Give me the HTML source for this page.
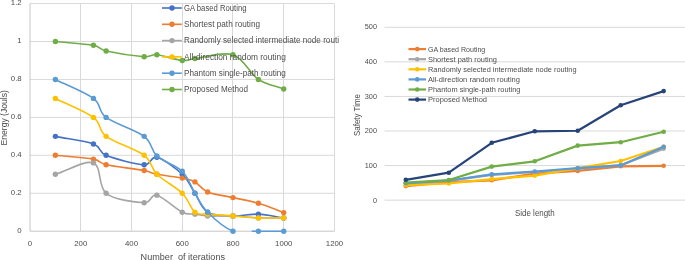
<!DOCTYPE html>
<html><head><meta charset="utf-8"><title>Charts</title>
<style>html,body{margin:0;padding:0;background:#fff}svg{display:block;filter:blur(0.35px)}text{font-family:"Liberation Sans",sans-serif;fill:#4d4d4d}</style></head><body>
<svg width="685" height="260" viewBox="0 0 685 260">
<rect width="685" height="260" fill="#fff"/>
<g stroke="#d9d9d9" stroke-width="1" fill="none">
<line x1="30.0" y1="193.26" x2="334.5" y2="193.26"/>
<line x1="30.0" y1="155.32" x2="334.5" y2="155.32"/>
<line x1="30.0" y1="117.38" x2="334.5" y2="117.38"/>
<line x1="30.0" y1="79.44" x2="334.5" y2="79.44"/>
<line x1="30.0" y1="41.50" x2="334.5" y2="41.50"/>
<line x1="30.0" y1="3.56" x2="334.5" y2="3.56"/>
<line x1="80.50" y1="3.6" x2="80.50" y2="231.2"/>
<line x1="131.50" y1="3.6" x2="131.50" y2="231.2"/>
<line x1="182.50" y1="3.6" x2="182.50" y2="231.2"/>
<line x1="232.50" y1="3.6" x2="232.50" y2="231.2"/>
<line x1="283.50" y1="3.6" x2="283.50" y2="231.2"/>
<line x1="334.50" y1="3.6" x2="334.50" y2="231.2"/>
</g>
<g stroke="#c6c6c6" stroke-width="1" fill="none"><line x1="30.0" y1="3.6" x2="30.0" y2="231.2"/><line x1="30.0" y1="231.2" x2="334.5" y2="231.2"/></g>
<g font-size="7.8" text-anchor="end">
<text x="21.7" y="233.10">0</text>
<text x="21.7" y="195.16">0.2</text>
<text x="21.7" y="157.22">0.4</text>
<text x="21.7" y="119.28">0.6</text>
<text x="21.7" y="81.34">0.8</text>
<text x="21.7" y="43.40">1</text>
<text x="21.7" y="5.46">1.2</text>
</g>
<g font-size="7.8" text-anchor="middle">
<text x="30.00" y="245.6">0</text>
<text x="80.75" y="245.6">200</text>
<text x="131.50" y="245.6">400</text>
<text x="182.25" y="245.6">600</text>
<text x="233.00" y="245.6">800</text>
<text x="283.75" y="245.6">1000</text>
<text x="334.50" y="245.6">1200</text>
</g>
<text font-size="9.2" text-anchor="middle" x="182.8" y="260.4" textLength="84.4" lengthAdjust="spacingAndGlyphs">Number&#160; of iterations</text>
<text font-size="9.2" text-anchor="middle" transform="translate(7.4,117.8) rotate(-90)" textLength="55.5" lengthAdjust="spacingAndGlyphs">Energy (Jouls)</text>
<clipPath id="cl"><rect x="30.0" y="3" width="305" height="228.7"/></clipPath>
<path d="M55.38,136.35 C68.06,138.88 84.98,140.78 93.44,143.94 C101.42,146.92 98.24,152.08 106.12,155.32 C114.58,158.80 135.73,164.49 144.19,164.81 C151.57,165.08 150.53,155.64 156.88,157.22 C163.22,158.80 175.91,168.28 182.25,174.29 C188.59,180.30 190.71,186.94 194.94,193.26 C199.17,199.58 201.28,208.44 207.62,212.23 C213.97,216.02 224.54,215.71 233.00,216.02 C241.46,216.34 249.92,213.81 258.38,214.13 C266.83,214.44 275.29,216.66 283.75,217.92" fill="none" stroke="#4472C4" stroke-width="1.6" stroke-linecap="round" stroke-linejoin="round" clip-path="url(#cl)"/>
<g fill="#4472C4"><circle cx="55.38" cy="136.35" r="2.7"/><circle cx="93.44" cy="143.94" r="2.7"/><circle cx="106.12" cy="155.32" r="2.7"/><circle cx="144.19" cy="164.81" r="2.7"/><circle cx="156.88" cy="157.22" r="2.7"/><circle cx="182.25" cy="174.29" r="2.7"/><circle cx="194.94" cy="193.26" r="2.7"/><circle cx="207.62" cy="212.23" r="2.7"/><circle cx="233.00" cy="216.02" r="2.7"/><circle cx="258.38" cy="214.13" r="2.7"/><circle cx="283.75" cy="217.92" r="2.7"/></g>
<path d="M55.38,155.32 C68.06,156.58 84.98,157.53 93.44,159.11 C100.27,160.39 99.34,163.28 106.12,164.81 C114.58,166.70 135.73,168.92 144.19,170.50 C150.70,171.71 150.53,173.03 156.88,174.29 C163.22,175.55 175.91,176.82 182.25,178.08 C188.59,179.35 190.71,179.57 194.94,181.88 C199.17,184.19 201.28,189.31 207.62,191.93 C213.97,194.56 224.54,195.73 233.00,197.62 C241.46,199.52 249.92,200.82 258.38,203.31 C266.83,205.81 275.29,209.51 283.75,212.61" fill="none" stroke="#ED7D31" stroke-width="1.6" stroke-linecap="round" stroke-linejoin="round" clip-path="url(#cl)"/>
<g fill="#ED7D31"><circle cx="55.38" cy="155.32" r="2.7"/><circle cx="93.44" cy="159.11" r="2.7"/><circle cx="106.12" cy="164.81" r="2.7"/><circle cx="144.19" cy="170.50" r="2.7"/><circle cx="156.88" cy="174.29" r="2.7"/><circle cx="182.25" cy="178.08" r="2.7"/><circle cx="194.94" cy="181.88" r="2.7"/><circle cx="207.62" cy="191.93" r="2.7"/><circle cx="233.00" cy="197.62" r="2.7"/><circle cx="258.38" cy="203.31" r="2.7"/><circle cx="283.75" cy="212.61" r="2.7"/></g>
<path d="M55.38,174.29 C68.06,170.50 84.98,159.75 93.44,162.91 C101.90,166.07 97.67,186.62 106.12,193.26 C114.58,199.90 135.73,202.43 144.19,202.75 C151.57,203.02 150.53,193.58 156.88,195.16 C163.22,196.74 175.91,209.07 182.25,212.23 C187.99,215.09 190.71,213.49 194.94,214.13 C199.17,214.76 201.28,215.71 207.62,216.02 C213.97,216.34 224.54,215.71 233.00,216.02 C241.46,216.34 249.92,217.60 258.38,217.92 C266.83,218.24 275.29,217.92 283.75,217.92" fill="none" stroke="#A5A5A5" stroke-width="1.6" stroke-linecap="round" stroke-linejoin="round" clip-path="url(#cl)"/>
<g fill="#A5A5A5"><circle cx="55.38" cy="174.29" r="2.7"/><circle cx="93.44" cy="162.91" r="2.7"/><circle cx="106.12" cy="193.26" r="2.7"/><circle cx="144.19" cy="202.75" r="2.7"/><circle cx="156.88" cy="195.16" r="2.7"/><circle cx="182.25" cy="212.23" r="2.7"/><circle cx="194.94" cy="214.13" r="2.7"/><circle cx="207.62" cy="216.02" r="2.7"/><circle cx="233.00" cy="216.02" r="2.7"/><circle cx="258.38" cy="217.92" r="2.7"/><circle cx="283.75" cy="217.92" r="2.7"/></g>
<path d="M55.38,98.41 C68.06,104.73 84.98,111.06 93.44,117.38 C101.90,123.70 97.67,130.03 106.12,136.35 C114.58,142.67 135.73,149.00 144.19,155.32 C152.65,161.64 150.53,167.97 156.88,174.29 C163.22,180.61 175.91,186.94 182.25,193.26 C188.59,199.58 190.71,208.75 194.94,212.23 C199.17,215.71 201.28,213.49 207.62,214.13 C213.97,214.76 224.54,215.39 233.00,216.02 C241.46,216.66 249.92,217.60 258.38,217.92 C266.83,218.24 275.29,217.92 283.75,217.92" fill="none" stroke="#FFC000" stroke-width="1.6" stroke-linecap="round" stroke-linejoin="round" clip-path="url(#cl)"/>
<g fill="#FFC000"><circle cx="55.38" cy="98.41" r="2.7"/><circle cx="93.44" cy="117.38" r="2.7"/><circle cx="106.12" cy="136.35" r="2.7"/><circle cx="144.19" cy="155.32" r="2.7"/><circle cx="156.88" cy="174.29" r="2.7"/><circle cx="182.25" cy="193.26" r="2.7"/><circle cx="194.94" cy="212.23" r="2.7"/><circle cx="207.62" cy="214.13" r="2.7"/><circle cx="233.00" cy="216.02" r="2.7"/><circle cx="258.38" cy="217.92" r="2.7"/><circle cx="283.75" cy="217.92" r="2.7"/></g>
<path d="M55.38,79.44 C68.06,85.76 84.98,92.09 93.44,98.41 C101.90,104.73 97.67,111.06 106.12,117.38 C114.58,123.70 135.73,129.93 144.19,136.35 C152.65,142.77 150.53,150.07 156.88,155.89 C163.22,161.71 175.91,165.03 182.25,171.25 C188.59,177.48 190.71,186.43 194.94,193.26 C199.17,200.09 201.28,205.91 207.62,212.23 C213.97,218.55 224.54,228.04 233.00,231.20" fill="none" stroke="#5B9BD5" stroke-width="1.6" stroke-linecap="round" stroke-linejoin="round" clip-path="url(#cl)"/>
<line x1="251.7" y1="231.2" x2="283.75" y2="231.2" stroke="#5B9BD5" stroke-width="1.6"/>
<g fill="#5B9BD5"><circle cx="55.38" cy="79.44" r="2.7"/><circle cx="93.44" cy="98.41" r="2.7"/><circle cx="106.12" cy="117.38" r="2.7"/><circle cx="144.19" cy="136.35" r="2.7"/><circle cx="156.88" cy="155.89" r="2.7"/><circle cx="182.25" cy="171.25" r="2.7"/><circle cx="194.94" cy="193.26" r="2.7"/><circle cx="207.62" cy="212.23" r="2.7"/><circle cx="233.00" cy="231.20" r="2.7"/><circle cx="258.38" cy="231.20" r="2.7"/><circle cx="283.75" cy="231.20" r="2.7"/></g>
<path d="M55.38,41.50 C68.06,42.76 84.98,43.71 93.44,45.29 C100.27,46.57 99.34,49.46 106.12,50.99 C114.58,52.88 135.73,56.04 144.19,56.68 C150.58,57.15 150.53,54.15 156.88,54.78 C163.22,55.41 175.91,59.84 182.25,60.47 C188.59,61.10 188.56,59.29 194.94,58.57 C203.40,57.62 222.43,51.30 233.00,54.78 C243.57,58.26 249.92,73.75 258.38,79.44 C266.83,85.13 275.29,85.76 283.75,88.93" fill="none" stroke="#70AD47" stroke-width="1.6" stroke-linecap="round" stroke-linejoin="round" clip-path="url(#cl)"/>
<g fill="#70AD47"><circle cx="55.38" cy="41.50" r="2.7"/><circle cx="93.44" cy="45.29" r="2.7"/><circle cx="106.12" cy="50.99" r="2.7"/><circle cx="144.19" cy="56.68" r="2.7"/><circle cx="156.88" cy="54.78" r="2.7"/><circle cx="182.25" cy="60.47" r="2.7"/><circle cx="194.94" cy="58.57" r="2.7"/><circle cx="233.00" cy="54.78" r="2.7"/><circle cx="258.38" cy="79.44" r="2.7"/><circle cx="283.75" cy="88.93" r="2.7"/></g>
<line x1="162" y1="8.00" x2="181.8" y2="8.00" stroke="#4472C4" stroke-width="1.6"/><circle cx="172" cy="8.00" r="2.7" fill="#4472C4"/>
<text x="184" y="10.60" font-size="8.3" textLength="62.5" lengthAdjust="spacingAndGlyphs">GA based Routing</text>
<line x1="162" y1="24.30" x2="181.8" y2="24.30" stroke="#ED7D31" stroke-width="1.6"/><circle cx="172" cy="24.30" r="2.7" fill="#ED7D31"/>
<text x="184" y="26.90" font-size="8.3" textLength="76" lengthAdjust="spacingAndGlyphs">Shortest path routing</text>
<line x1="162" y1="40.60" x2="181.8" y2="40.60" stroke="#A5A5A5" stroke-width="1.6"/><circle cx="172" cy="40.60" r="2.7" fill="#A5A5A5"/>
<text x="184" y="43.20" font-size="8.3" textLength="155" lengthAdjust="spacingAndGlyphs">Randomly selected intermediate node routi</text>
<line x1="162" y1="56.90" x2="181.8" y2="56.90" stroke="#FFC000" stroke-width="1.6"/><circle cx="172" cy="56.90" r="2.7" fill="#FFC000"/>
<text x="184" y="59.50" font-size="8.3" textLength="101.8" lengthAdjust="spacingAndGlyphs">All-direction random routing</text>
<line x1="162" y1="73.20" x2="181.8" y2="73.20" stroke="#5B9BD5" stroke-width="1.6"/><circle cx="172" cy="73.20" r="2.7" fill="#5B9BD5"/>
<text x="184" y="75.80" font-size="8.3" textLength="101.8" lengthAdjust="spacingAndGlyphs">Phantom single-path routing</text>
<line x1="162" y1="89.50" x2="181.8" y2="89.50" stroke="#70AD47" stroke-width="1.6"/><circle cx="172" cy="89.50" r="2.7" fill="#70AD47"/>
<text x="184" y="92.10" font-size="8.3" textLength="64" lengthAdjust="spacingAndGlyphs">Proposed Method</text>
<g stroke="#d9d9d9" stroke-width="1" fill="none">
<line x1="384.5" y1="200.15" x2="685" y2="200.15"/>
<line x1="384.5" y1="165.58" x2="685" y2="165.58"/>
<line x1="384.5" y1="131.01" x2="685" y2="131.01"/>
<line x1="384.5" y1="96.44" x2="685" y2="96.44"/>
<line x1="384.5" y1="61.87" x2="685" y2="61.87"/>
<line x1="384.5" y1="27.30" x2="685" y2="27.30"/>
</g>
<g font-size="7.3" text-anchor="end">
<text x="377.0" y="202.60">0</text>
<text x="377.0" y="167.90">100</text>
<text x="377.0" y="133.20">200</text>
<text x="377.0" y="98.50">300</text>
<text x="377.0" y="63.80">400</text>
<text x="377.0" y="29.10">500</text>
</g>
 <text font-size="8.4" text-anchor="middle" x="534.9" y="216.1" textLength="39.7" lengthAdjust="spacingAndGlyphs">Side length</text>
<text font-size="8.4" text-anchor="middle" transform="translate(359.6,115) rotate(-90)" textLength="42" lengthAdjust="spacingAndGlyphs">Safety Time</text>
<path d="M405.80,186.10 L448.78,182.20 L491.76,180.30 L534.74,173.70 L577.72,170.90 L620.70,166.30 L663.68,165.80" fill="none" stroke="#ED7D31" stroke-width="2.2" stroke-linecap="round" stroke-linejoin="round"/>
<g fill="#ED7D31"><circle cx="405.80" cy="186.10" r="2.3"/><circle cx="448.78" cy="182.20" r="2.3"/><circle cx="491.76" cy="180.30" r="2.3"/><circle cx="534.74" cy="173.70" r="2.3"/><circle cx="577.72" cy="170.90" r="2.3"/><circle cx="620.70" cy="166.30" r="2.3"/><circle cx="663.68" cy="165.80" r="2.3"/></g>
<path d="M405.80,183.60 L448.78,180.80 L491.76,174.90 L534.74,172.00 L577.72,168.80 L620.70,165.20 L663.68,148.60" fill="none" stroke="#A5A5A5" stroke-width="2.2" stroke-linecap="round" stroke-linejoin="round"/>
<g fill="#A5A5A5"><circle cx="405.80" cy="183.60" r="2.3"/><circle cx="448.78" cy="180.80" r="2.3"/><circle cx="491.76" cy="174.90" r="2.3"/><circle cx="534.74" cy="172.00" r="2.3"/><circle cx="577.72" cy="168.80" r="2.3"/><circle cx="620.70" cy="165.20" r="2.3"/><circle cx="663.68" cy="148.60" r="2.3"/></g>
<path d="M405.80,185.20 L448.78,183.50 L491.76,179.10 L534.74,175.60 L577.72,168.10 L620.70,161.00 L663.68,146.80" fill="none" stroke="#FFC000" stroke-width="2.2" stroke-linecap="round" stroke-linejoin="round"/>
<g fill="#FFC000"><circle cx="405.80" cy="185.20" r="2.3"/><circle cx="448.78" cy="183.50" r="2.3"/><circle cx="491.76" cy="179.10" r="2.3"/><circle cx="534.74" cy="175.60" r="2.3"/><circle cx="577.72" cy="168.10" r="2.3"/><circle cx="620.70" cy="161.00" r="2.3"/><circle cx="663.68" cy="146.80" r="2.3"/></g>
<path d="M405.80,183.30 L448.78,180.50 L491.76,174.40 L534.74,171.50 L577.72,168.20 L620.70,165.40 L663.68,146.70" fill="none" stroke="#5B9BD5" stroke-width="2.2" stroke-linecap="round" stroke-linejoin="round"/>
<g fill="#5B9BD5"><circle cx="405.80" cy="183.30" r="2.3"/><circle cx="448.78" cy="180.50" r="2.3"/><circle cx="491.76" cy="174.40" r="2.3"/><circle cx="534.74" cy="171.50" r="2.3"/><circle cx="577.72" cy="168.20" r="2.3"/><circle cx="620.70" cy="165.40" r="2.3"/><circle cx="663.68" cy="146.70" r="2.3"/></g>
<path d="M405.80,182.50 L448.78,180.00 L491.76,166.60 L534.74,161.30 L577.72,145.60 L620.70,142.20 L663.68,131.80" fill="none" stroke="#70AD47" stroke-width="2.2" stroke-linecap="round" stroke-linejoin="round"/>
<g fill="#70AD47"><circle cx="405.80" cy="182.50" r="2.3"/><circle cx="448.78" cy="180.00" r="2.3"/><circle cx="491.76" cy="166.60" r="2.3"/><circle cx="534.74" cy="161.30" r="2.3"/><circle cx="577.72" cy="145.60" r="2.3"/><circle cx="620.70" cy="142.20" r="2.3"/><circle cx="663.68" cy="131.80" r="2.3"/></g>
<path d="M405.80,179.80 L448.78,172.70 L491.76,142.80 L534.74,131.30 L577.72,130.75 L620.70,105.20 L663.68,91.10" fill="none" stroke="#264478" stroke-width="2.2" stroke-linecap="round" stroke-linejoin="round"/>
<g fill="#264478"><circle cx="405.80" cy="179.80" r="2.3"/><circle cx="448.78" cy="172.70" r="2.3"/><circle cx="491.76" cy="142.80" r="2.3"/><circle cx="534.74" cy="131.30" r="2.3"/><circle cx="577.72" cy="130.75" r="2.3"/><circle cx="620.70" cy="105.20" r="2.3"/><circle cx="663.68" cy="91.10" r="2.3"/></g>
<line x1="408.5" y1="49.10" x2="426" y2="49.10" stroke="#ED7D31" stroke-width="2.2"/><circle cx="417.2" cy="49.10" r="2.3" fill="#ED7D31"/>
<text x="428" y="51.60" font-size="7.3" textLength="57.3" lengthAdjust="spacingAndGlyphs">GA based Routing</text>
<line x1="408.5" y1="59.20" x2="426" y2="59.20" stroke="#A5A5A5" stroke-width="2.2"/><circle cx="417.2" cy="59.20" r="2.3" fill="#A5A5A5"/>
<text x="428" y="61.70" font-size="7.3" textLength="68.9" lengthAdjust="spacingAndGlyphs">Shortest path routing</text>
<line x1="408.5" y1="69.30" x2="426" y2="69.30" stroke="#FFC000" stroke-width="2.2"/><circle cx="417.2" cy="69.30" r="2.3" fill="#FFC000"/>
<text x="428" y="71.80" font-size="7.3" textLength="148.5" lengthAdjust="spacingAndGlyphs">Randomly selected intermediate node routing</text>
<line x1="408.5" y1="79.40" x2="426" y2="79.40" stroke="#5B9BD5" stroke-width="2.2"/><circle cx="417.2" cy="79.40" r="2.3" fill="#5B9BD5"/>
<text x="428" y="81.90" font-size="7.3" textLength="92" lengthAdjust="spacingAndGlyphs">All-direction random routing</text>
<line x1="408.5" y1="89.50" x2="426" y2="89.50" stroke="#70AD47" stroke-width="2.2"/><circle cx="417.2" cy="89.50" r="2.3" fill="#70AD47"/>
<text x="428" y="92.00" font-size="7.3" textLength="92.5" lengthAdjust="spacingAndGlyphs">Phantom single-path routing</text>
<line x1="408.5" y1="99.60" x2="426" y2="99.60" stroke="#264478" stroke-width="2.2"/><circle cx="417.2" cy="99.60" r="2.3" fill="#264478"/>
<text x="428" y="102.10" font-size="7.3" textLength="59" lengthAdjust="spacingAndGlyphs">Proposed Method</text>
</svg></body></html>
